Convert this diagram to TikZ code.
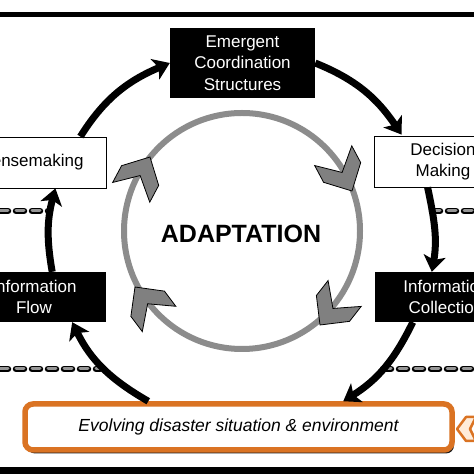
\documentclass[tikz,border=0pt]{standalone}
\usepackage{fontspec}
\setmainfont{Liberation Sans}
\usetikzlibrary{arrows.meta,calc,shadows}
\definecolor{grayring}{RGB}{140,140,140}
\definecolor{chev}{RGB}{128,128,128}
\definecolor{orng}{RGB}{218,115,35}
\definecolor{dashgray}{RGB}{150,150,150}
\begin{document}
\begin{tikzpicture}[x=1pt,y=1pt,
  boxfont/.style={font=\fontsize{17}{21.5}\selectfont},
  blackbox/.style={fill=black,text=white,inner sep=0pt,align=center,boxfont},
  whitebox/.style={draw=black,line width=0.8pt,fill=white,inner sep=0pt,align=center,boxfont},
  cyc/.style={line width=7pt,-{Stealth[length=16pt,width=22pt,inset=4pt]}},
  dashouter/.style={line width=6.5pt,line cap=round,dash pattern=on 8pt off 8pt},
  dashinner/.style={dashgray,line width=3pt,line cap=round,dash pattern=on 8pt off 8pt},
  chevron/.pic={\draw[fill=chev,line width=0.8pt,line join=miter]
     (0,0)--(-21,21)--(-40,21)--(-21,0)--(-40,-21)--(-21,-21)--cycle;}
]
\useasboundingbox (0,0) rectangle (474,474);
\clip (0,0) rectangle (474,474);
\fill[white] (0,0) rectangle (474,474);
% bars
\fill[black] (0,457) rectangle (474,462);
\fill[black] (0,0) rectangle (474,7);
% dashed separators
\foreach \a/\b/\yy in {0/50/263, 432/480/263, 0/100/105, 383/480/105}{
  \draw[dashouter] (\a,\yy) -- (\b,\yy);
  \draw[dashinner] (\a,\yy) -- (\b,\yy);
}
% inner ring
\node (ring) [circle,draw=grayring,line width=6pt,minimum size=236pt,inner sep=0pt] at (242,243) {};
\node (adapt) at (241,240) {\fontsize{25}{28}\selectfont\bfseries ADAPTATION};
\pic[rotate=62] at (150,317) {chevron};
\pic[rotate=-62] at (352,283) {chevron};
\pic[rotate=-128] at (320,149) {chevron};
\pic[rotate=127] at (135,187) {chevron};
% boxes
\node (emergent) [blackbox,minimum width=145pt,minimum height=70pt] at (242.5,411) {Emergent\\Coordination\\Structures};
\node (sense) [whitebox,minimum width=148pt,minimum height=51pt] at (32,311.5) {Sensemaking};
\node (decision) [whitebox,minimum width=138pt,minimum height=51pt] at (443,312.5) {Decision\\Making};
\node (infoflow) [blackbox,minimum width=144pt,minimum height=50pt] at (34,177) {Information\\Flow};
\node (infocol) [blackbox,minimum width=142pt,minimum height=50pt] at (446,177) {Information\\Collection};
\node (env) [draw=orng,line width=5.5pt,rounded corners=8pt,fill=white,
  minimum width=427pt,minimum height=46pt,inner sep=0pt,
  drop shadow={shadow xshift=2pt,shadow yshift=-3.5pt,fill=black,opacity=0.9},
  font=\itshape\fontsize{17.5}{20}\selectfont] at (238.5,47) {Evolving disaster situation \& environment};
% partial chevron at right edge
\draw[orng,line width=2.5pt,fill=orange!15,line join=round] (476,57)--(466,57)--(457,45)--(466,33)--(476,33)--(470,45)--cycle;
% cycle arrows
\draw[cyc] ([xshift=-26pt]sense.north east) to[out=58,in=203] (emergent.west);
\draw[cyc] (emergent.east) to[out=-22,in=124] ([xshift=28pt,yshift=1pt]decision.north west);
\draw[cyc] ([xshift=54pt]decision.south west) to[out=-78,in=80] ([xshift=57pt]infocol.north west);
\draw[cyc] ([xshift=38pt]infocol.south west) to[out=-116,in=32] ([xshift=321pt]env.north west);
\draw[cyc] ([xshift=126pt]env.north west) to[out=150,in=-64] ([xshift=-34pt]infoflow.south east);
\draw[cyc] ([xshift=-54pt]infoflow.north east) to[out=100,in=-105] ([xshift=-51pt]sense.south east);
\end{tikzpicture}
\end{document}
